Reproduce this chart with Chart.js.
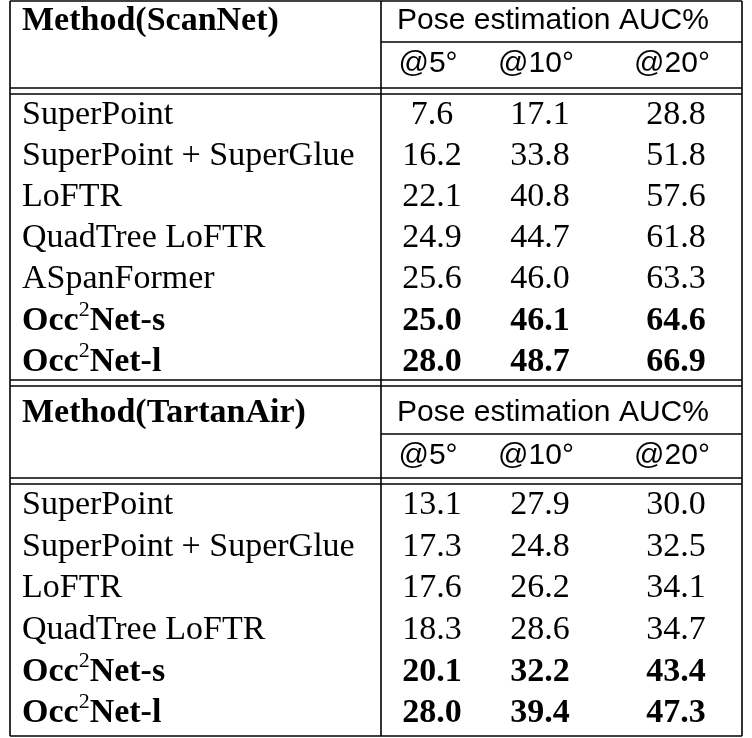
<!DOCTYPE html>
<html>
<head>
<meta charset="utf-8">
<script src="https://cdn.jsdelivr.net/npm/chart.js@4/dist/chart.umd.min.js"></script>
<style>
  html, body { margin: 0; padding: 0; background: #fff; }
  #wrap { width: 752px; height: 738px; position: relative; }
</style>
</head>
<body>
<div id="wrap"><canvas id="mycanvas"></canvas></div>
<script>
// table values
var scanMethods = ['SuperPoint', 'SuperPoint + SuperGlue', 'LoFTR', 'QuadTree LoFTR', 'ASpanFormer', 'Occ2Net-s', 'Occ2Net-l'];
var scanAuc5 = [7.6, 16.2, 22.1, 24.9, 25.6, 25.0, 28.0];
var scanAuc10 = [17.1, 33.8, 40.8, 44.7, 46.0, 46.1, 48.7];
var scanAuc20 = [28.8, 51.8, 57.6, 61.8, 63.3, 64.6, 66.9];

var tartanMethods = ['SuperPoint', 'SuperPoint + SuperGlue', 'LoFTR', 'QuadTree LoFTR', 'Occ2Net-s', 'Occ2Net-l'];
var tartanAuc5 = [13.1, 17.3, 17.6, 18.3, 20.1, 28.0];
var tartanAuc10 = [27.9, 24.8, 26.2, 28.6, 32.2, 39.4];
var tartanAuc20 = [30.0, 32.5, 34.1, 34.7, 43.4, 47.3];

var thresholds = ['@5°', '@10°', '@20°'];

// layout (pixel-ish units on the hidden scales)
var colX = [432, 540, 676];
var nameX = 22;
var scanRowY = [115, 156, 197, 238, 279, 321, 362];
var tartanRowY = [505, 547, 588, 630, 672, 713];

function cellPoints(vals, rows, col) {
  return vals.map(function (v, i) { return { x: colX[col], y: rows[i], t: v.toFixed(1) }; });
}

var datasets = [];
[[scanAuc5, scanAuc10, scanAuc20, scanRowY, scanMethods], [tartanAuc5, tartanAuc10, tartanAuc20, tartanRowY, tartanMethods]].forEach(function (tb) {
  for (var c = 0; c < 3; c++) {
    datasets.push({ data: cellPoints(tb[c], tb[3], c), names: tb[4], pointRadius: 0 });
  }
});

var tablePlugin = {
  id: 'tablePlugin',
  afterDraw: function (chart) {
    var ctx = chart.ctx;
    var xs = chart.scales.x, ys = chart.scales.y;
    var X = function (v) { return xs.getPixelForValue(v); };
    var Y = function (v) { return ys.getPixelForValue(v); };
    var serif = 'px "Liberation Serif", "DejaVu Serif", serif';
    var sans = 'px "Liberation Sans", Arial, sans-serif';
    ctx.save();
    ctx.fillStyle = '#000';
    ctx.strokeStyle = '#000';
    ctx.lineWidth = 1.6;
    ctx.textBaseline = 'middle';

    function hline(y, x0, x1) { ctx.beginPath(); ctx.moveTo(X(x0), Y(y)); ctx.lineTo(X(x1), Y(y)); ctx.stroke(); }
    function vline(x, y0, y1) { ctx.beginPath(); ctx.moveTo(X(x), Y(y0)); ctx.lineTo(X(x), Y(y1)); ctx.stroke(); }

    function methodName(name, y, bold) {
      ctx.textAlign = 'left';
      var f = (bold ? 'bold ' : '') + '34' + serif;
      ctx.font = f;
      if (name.indexOf('Occ2') === 0) {
        var x = X(nameX);
        ctx.fillText('Occ', x, Y(y));
        x += ctx.measureText('Occ').width;
        ctx.font = '22' + serif;
        ctx.fillText('2', x, Y(y) - 11);
        x += ctx.measureText('2').width;
        ctx.font = f;
        ctx.fillText(name.slice(4), x, Y(y));
      } else {
        ctx.fillText(name, X(nameX), Y(y));
      }
    }

    function header(title, top) {
      ctx.textAlign = 'left';
      ctx.font = 'bold 34' + serif;
      ctx.fillText(title, X(nameX), Y(top + 21));
      ctx.textAlign = 'center';
      ctx.font = '30' + sans;
      ctx.fillText('Pose estimation AUC%', X(553), Y(top + 21));
      thresholds.forEach(function (t, i) { ctx.fillText(t, X(colX[i] - 4), Y(top + 64)); });
      hline(top + 42, 381, 742);
    }

    header('Method(ScanNet)', 0);
    header('Method(TartanAir)', 392);

    // borders
    [1, 88, 94, 380, 386, 478, 484, 736].forEach(function (y) { hline(y, 10, 742); });
    [10, 381, 742].forEach(function (x) { vline(x, 1, 736); });

    // cells from datasets
    chart.data.datasets.forEach(function (ds, di) {
      var meta = chart.getDatasetMeta(di);
      var col = di % 3;
      meta.data.forEach(function (el, i) {
        var bold = ds.names[i].indexOf('Occ2') === 0;
        ctx.textAlign = 'center';
        ctx.font = (bold ? 'bold ' : '') + '34' + serif;
        ctx.fillText(ds.data[i].t, el.x, el.y);
        if (col === 0) methodName(ds.names[i], ds.data[i].y, bold);
      });
    });
    ctx.restore();
  }
};

new Chart(document.getElementById('mycanvas'), {
  type: 'scatter',
  data: { datasets: datasets },
  options: {
    responsive: true,
    maintainAspectRatio: false,
    animation: false,
    layout: { padding: 0 },
    plugins: { legend: { display: false }, tooltip: { enabled: false } },
    scales: {
      x: { type: 'linear', min: 0, max: 752, display: false },
      y: { type: 'linear', min: 0, max: 738, reverse: true, display: false }
    }
  },
  plugins: [tablePlugin]
});
</script>
</body>
</html>
